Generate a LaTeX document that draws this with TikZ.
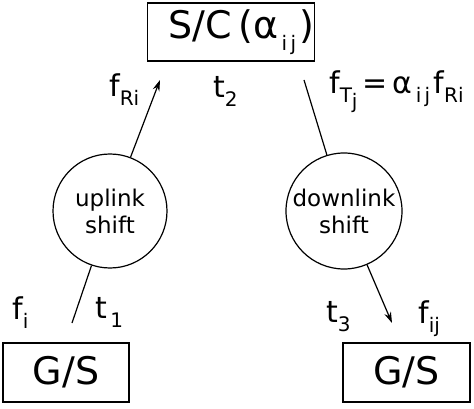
\documentclass[tikz,border=0pt]{standalone}
\usepackage{fontspec}
\setmainfont{DejaVu Sans}
\usetikzlibrary{arrows.meta}
\newcommand{\lsub}[1]{\raisebox{-0.3em}{\fontsize{20}{20}\selectfont #1}}
\begin{document}
\begin{tikzpicture}[x=1pt,y=-1pt,
  box/.style={draw,line width=1.3pt,inner sep=0pt,font=\fontsize{38}{38}\selectfont},
  shiftc/.style={draw,circle,line width=1.2pt,inner sep=0pt,align=center,font=\fontsize{23}{27}\selectfont},
  link/.style={line width=1.2pt},
  arr/.style={link,-{Stealth[length=11pt,width=7pt]}},
  lab/.style={anchor=base west,inner sep=0pt,font=\fontsize{30}{30}\selectfont}]
\useasboundingbox (0,0) rectangle (474,409);
\node[box,minimum width=166pt,minimum height=58pt] (sc) at (231,32)
  {\hspace*{21pt}S/C\,(α\lsub{\,i\,j\,})};
\node[box,minimum width=126pt,minimum height=59pt] (gs1) at (66,372.5) {G/S};
\node[box,minimum width=127pt,minimum height=59pt] (gs2) at (406.5,372.5) {G/S};
\node[shiftc,minimum size=114pt] (up) at (110,211) {uplink\\shift};
\node[shiftc,minimum size=116pt] (down) at (344,211) {downlink\\shift};
\coordinate (a1) at (72,323);
\coordinate (a2) at (160,80);
\coordinate (b1) at (304,80);
\coordinate (b2) at (392,323);
\draw[link] (a1) -- (up);
\draw[arr] (up) -- (a2);
\draw[link] (b1) -- (down);
\draw[arr] (down) -- (b2);
\node[lab] (fri) at (109,97) {f\lsub{Ri}};
\node[lab] (t2) at (213,98) {t\lsub{2}};
\node[lab] (ftj) at (329,94) {f\lsub{T\lsub{j}}\,=\,α\lsub{\,i\,j\,}f\lsub{Ri}};
\node[lab] (fi) at (12,319) {f\lsub{i}};
\node[lab] (t1) at (95,318) {t\lsub{\,1}};
\node[lab] (t3) at (326,322) {t\lsub{3}};
\node[lab] (fij) at (418,323) {f\lsub{ij}};
\end{tikzpicture}
\end{document}
